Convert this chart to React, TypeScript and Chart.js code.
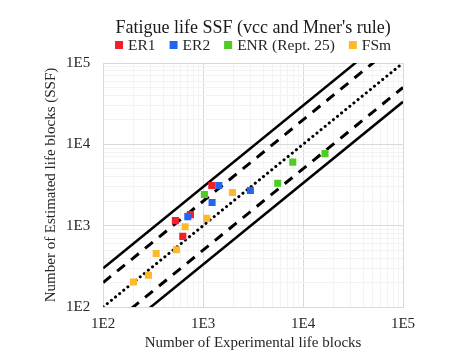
import React, { useEffect, useRef } from 'react';
import { Chart, registerables } from 'chart.js';

Chart.register(...registerables);

// ---- data ----
const chartTitle = "Fatigue life SSF (vcc and Mner's rule)";
const seriesNames = ['ER1', 'ER2', 'ENR (Rept. 25)', 'FSm'];
const er1X = [1222, 747, 528, 626];
const er1Y = [3119, 1368, 1153, 738];
const er2X = [1436, 1230, 703, 2972];
const er2Y = [3119, 1923, 1291, 2704];
const enrX = [1030, 5580, 7890, 16600];
const enrY = [2414, 3327, 6045, 7680];
const fsmX = [1965, 1089, 661, 541, 339, 284, 201];
const fsmY = [2554, 1230, 972, 505, 455, 246, 203];

// scatter-band factors: estimated = factor * experimental
const bandFactors = [3, 2, 1, 0.5, 1 / 3];
const bandX = [100, 100000];

const majorTicks = [100, 1000, 10000, 100000];
const tickLabels = ['1E2', '1E3', '1E4', '1E5'];

const FONT = '"Liberation Serif", "DejaVu Serif", serif';
const colors = ['#ef1f2c', '#2266ee', '#4fcc22', '#fcb92b'];

function logTicks() {
  const t: { value: number }[] = [];
  for (let e = 2; e < 5; e++) {
    for (let m = 1; m < 10; m++) t.push({ value: m * Math.pow(10, e) });
  }
  t.push({ value: 100000 });
  return t;
}

function isMajor(v: number) {
  return majorTicks.some((m) => Math.abs(m - v) < 1e-6);
}

function labelFor(v: number) {
  const i = majorTicks.findIndex((m) => Math.abs(m - v) < 1e-6);
  return i >= 0 ? tickLabels[i] : '';
}

// title + legend drawn over the chart area centre (like the Excel original)
const headerPlugin = {
  id: 'header',
  afterDraw(chart: any) {
    const ctx = chart.ctx as CanvasRenderingContext2D;
    const ca = chart.chartArea;
    const cx = (ca.left + ca.right) / 2;
    ctx.save();
    ctx.fillStyle = '#1a1a1a';
    ctx.textAlign = 'center';
    ctx.textBaseline = 'alphabetic';
    ctx.font = `18px ${FONT}`;
    ctx.fillText(chartTitle, cx, 33);

    ctx.font = `15.5px ${FONT}`;
    ctx.textAlign = 'left';
    const box = 8;
    const gapBT = 5;
    const gapItem = 14;
    const widths = seriesNames.map((n) => ctx.measureText(n).width);
    const total = widths.reduce((a, w) => a + box + gapBT + w, 0) + gapItem * (seriesNames.length - 1);
    let x = cx - total / 2;
    seriesNames.forEach((n, i) => {
      ctx.fillStyle = colors[i];
      ctx.fillRect(x, 41, box, box);
      ctx.fillStyle = '#262626';
      ctx.fillText(n, x + box + gapBT, 50);
      x += box + gapBT + widths[i] + gapItem;
    });
    ctx.restore();
  },
};

export default function App() {
  const ref = useRef<HTMLCanvasElement>(null);

  useEffect(() => {
    const xs = [er1X, er2X, enrX, fsmX];
    const ys = [er1Y, er2Y, enrY, fsmY];
    const scatterSets = seriesNames.map((name, i) => ({
      type: 'scatter' as const,
      label: name,
      data: xs[i].map((x, j) => ({ x, y: ys[i][j] })),
      backgroundColor: colors[i],
      borderColor: colors[i],
      borderWidth: 0,
      pointStyle: 'rect' as const,
      pointRadius: 5,
      pointHoverRadius: 5,
      order: 4 - i,
    }));
    const bandStyles = [
      { dash: [], width: 2.5, cap: 'butt' },
      { dash: [10, 8], width: 3, cap: 'butt' },
      { dash: [0.1, 5.2], width: 3, cap: 'round' },
      { dash: [10, 8], width: 3, cap: 'butt' },
      { dash: [], width: 2.5, cap: 'butt' },
    ];
    const lineSets = bandFactors.map((f, i) => ({
      type: 'line' as const,
      label: 'band' + i,
      data: bandX.map((x) => ({ x, y: x * f })),
      borderColor: '#000000',
      backgroundColor: '#000000',
      borderWidth: bandStyles[i].width,
      borderDash: bandStyles[i].dash,
      borderCapStyle: bandStyles[i].cap as CanvasLineCap,
      pointRadius: 0,
      fill: false,
      tension: 0,
      order: 10,
    }));

    const axisCommon = (title: string, isX: boolean) => ({
      type: 'logarithmic' as const,
      min: 100,
      max: 100000,
      afterBuildTicks: (scale: any) => {
        scale.ticks = logTicks();
      },
      grid: {
        color: (ctx: any) => (ctx.tick && isMajor(ctx.tick.value) ? '#d9d9d9' : '#f3f3f3'),
        lineWidth: 1,
        drawTicks: false,
      },
      border: { display: true, color: '#d9d9d9' },
      ticks: {
        autoSkip: false,
        maxRotation: 0,
        padding: isX ? 8 : 13,
        color: '#262626',
        font: { family: FONT, size: 15 },
        callback: (v: any) => labelFor(Number(v)),
      },
      title: {
        display: true,
        text: title,
        color: '#262626',
        font: { family: FONT, size: 15 },
        padding: isX ? { top: -7, bottom: 0 } : { top: 3, bottom: -7 },
      },
    });

    const chart = new Chart(ref.current!, {
      type: 'scatter',
      data: { datasets: [...scatterSets, ...lineSets] as any },
      options: {
        responsive: false,
        animation: false,
        devicePixelRatio: 1,
        layout: { padding: { left: 39, right: 71, top: 63, bottom: 12 } },
        scales: {
          x: axisCommon('Number of Experimental life blocks', true) as any,
          y: axisCommon('Number of Estimated life blocks (SSF)', false) as any,
        },
        plugins: {
          title: { display: false },
          legend: { display: false },
          tooltip: { enabled: false },
        },
      },
      plugins: [headerPlugin],
    });
    return () => chart.destroy();
  }, []);

  return (
    <div style={{ position: 'absolute', left: 0, top: 0, width: 474, height: 364, background: '#ffffff' }}>
      <canvas ref={ref} width={474} height={364} style={{ display: 'block', width: 474, height: 364 }} />
    </div>
  );
}
